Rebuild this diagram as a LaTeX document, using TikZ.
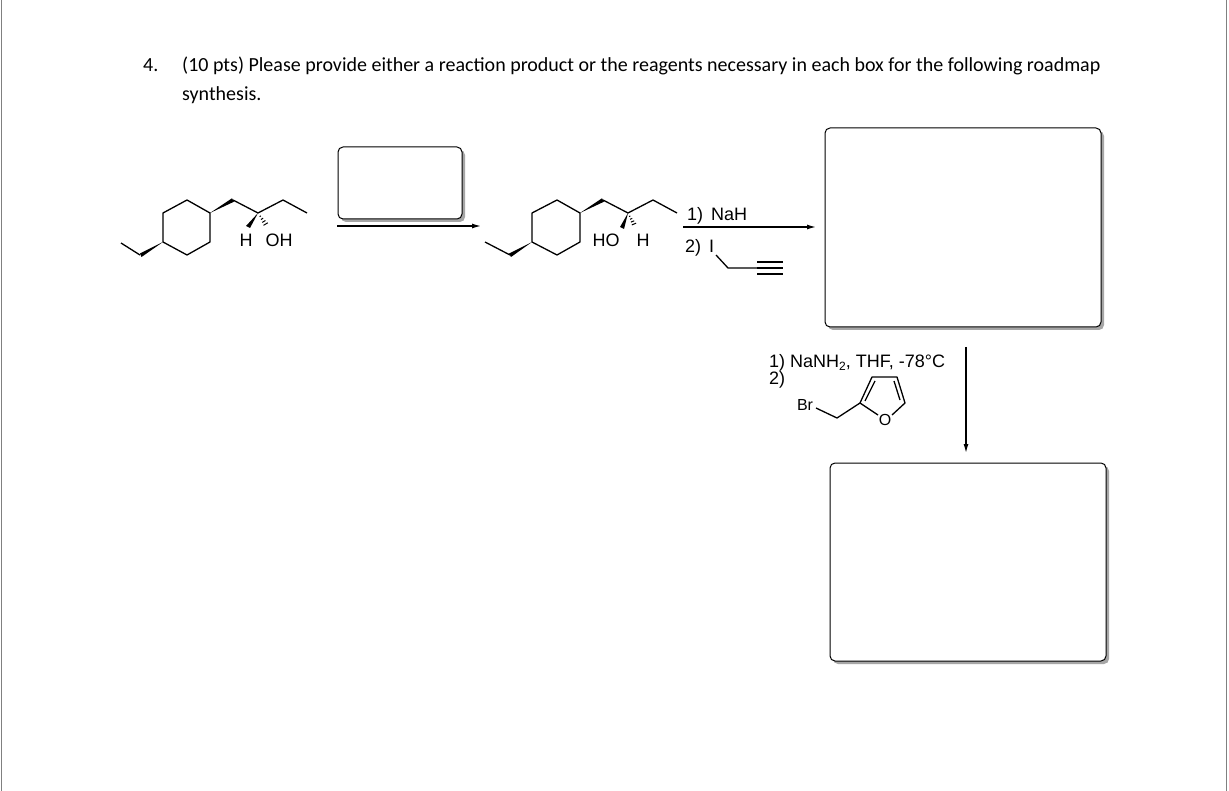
\documentclass[tikz,border=0pt]{standalone}
\usepackage{fontspec}
\setmainfont{Carlito}
\newfontfamily\chem{Liberation Sans}
\usetikzlibrary{calc,arrows.meta}
\newcommand{\subtwo}{\raisebox{-3pt}{\fontsize{12}{12}\selectfont 2}}
\begin{document}
\begin{tikzpicture}[x=1pt,y=-1pt,
  bond/.style={line width=1.3pt,line join=round},
  lbl/.style={font=\chem\fontsize{18}{18}\selectfont,inner sep=0pt},
  ansbox/.style={draw=black,line width=1pt,rounded corners=5pt,fill=white},
  shadow/.style={fill=gray!70,rounded corners=5pt},
  arr/.style={line width=1.3pt,-{Latex[length=9pt,width=5pt]}}]
\useasboundingbox (0,0) rectangle (1229,791);
\fill[white] (0,0) rectangle (1229,791);
\draw[gray,line width=1pt] (1,0) -- (1,791);
\draw[gray,line width=1pt] (1226,0) -- (1226,791);
% title
\node[anchor=base west,font=\fontsize{20}{22}\selectfont,inner sep=0pt] (num) at (143,72) {4.};
\node[anchor=base west,font=\fontsize{20}{22}\selectfont,inner sep=0pt] (t1) at (182,72) {(10 pts) Please provide either a reaction product or the reagents necessary in each box for the following roadmap};
\node[anchor=base west,font=\fontsize{20}{22}\selectfont,inner sep=0pt] (t2) at (182,101) {synthesis.};
% molecule 1
\draw[bond] (187,200)--(210,213)--(210,242)--(187,255)--(163,242)--(163,213)--cycle;
\fill (163,242)--(140,253.5)--(141.5,257)--cycle;
\draw[bond] (140,255)--(121,243);
\fill (210,213)--(232,198.3)--(234,201.7)--cycle;
\draw[bond] (233,200)--(258,213)--(283,200)--(307,213);
\fill (258,213)--(246,226)--(250,228)--cycle;
\foreach \t in {0.25,0.45,0.65,0.85}
  \draw[line width=1pt] ($(258,213)!\t!(267,226)+(-2.5*\t,1.5*\t)$)--($(258,213)!\t!(267,226)+(2.5*\t,-1.5*\t)$);
\node[lbl] (h1) at (246,240) {H};
\node[lbl] (oh1) at (279,240) {OH};
% molecule 2
\draw[bond] (557,200)--(580,213)--(580,242)--(557,255)--(532,242)--(532,213)--cycle;
\fill (532,242)--(509,253.5)--(511,257)--cycle;
\draw[bond] (510,255)--(485,242);
\fill (580,213)--(602,198.3)--(604,201.7)--cycle;
\draw[bond] (603,200)--(628,213)--(653,200)--(677,213);
\fill (628,213)--(620,227)--(624,229)--cycle;
\foreach \t in {0.25,0.45,0.65,0.85}
  \draw[line width=1pt] ($(628,213)!\t!(635,226)+(-2.5*\t,1*\t)$)--($(628,213)!\t!(635,226)+(2.5*\t,-1*\t)$);
\node[lbl] (ho2) at (606,240) {HO};
\node[lbl] (h2) at (643,240) {H};
% box 1 and arrow 1
\fill[shadow] (341,150) rectangle (465,222);
\node[ansbox,minimum width=124pt,minimum height=72pt] (b1) at (400,183) {};
\coordinate (a1s) at (337,226); \coordinate (a1e) at (481,226);
\draw[arr] (a1s)--(a1e);
% arrow 2
\coordinate (a2s) at (683,227); \coordinate (a2e) at (816,227);
\draw[arr] (a2s)--(a2e);
\node[lbl,anchor=base west] (r1) at (687,221) {1)\, NaH};
\node[lbl,anchor=base west] (r2) at (685,253) {2)\,\ I};
\draw[bond] (716,255)--(728,268)--(757,268);
\draw[line width=1.3pt] (757,262)--(783,262) (757,268)--(783,268) (757,274)--(783,274);
% box 2
\fill[shadow] (828,131) rectangle (1104,330);
\node[ansbox,minimum width=276pt,minimum height=199pt] (b2) at (963,227.5) {};
% arrow 3
\coordinate (a3s) at (966,347); \coordinate (a3e) at (966,453);
\draw[arr] (a3s)--(a3e);
\node[lbl,anchor=base west] (r3) at (769,368) {1) NaNH\subtwo, THF, -78°C};
\node[lbl,anchor=base west] (r4) at (769,385) {2)};
\node[lbl,font=\chem\fontsize{16}{16}\selectfont] (br) at (805,405) {Br};
\draw[bond] (816,408)--(837,418)--(860,403);
\draw[bond] (860,403)--(872,377)--(897,377)--(905,403)--(892,415);
\draw[bond] (860,403)--(878,415);
\node[lbl,font=\chem\fontsize{16}{16}\selectfont] (o) at (885,420) {O};
\draw[bond] (865,401)--(875,381);
\draw[bond] (894,381)--(900,400);
% box 3
\fill[shadow] (833,466) rectangle (1109,664);
\node[ansbox,minimum width=276pt,minimum height=198pt] (b3) at (968,562) {};
\end{tikzpicture}
\end{document}
